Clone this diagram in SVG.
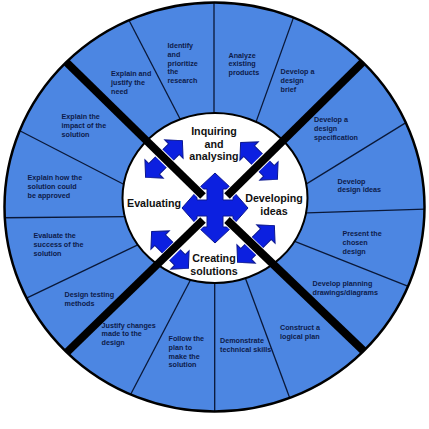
<svg xmlns="http://www.w3.org/2000/svg" width="429" height="429" viewBox="0 0 429 429">
<style>
.s{font-family:"Liberation Sans",Arial,sans-serif;font-size:7.2px;font-weight:bold;fill:#0d1b4a}
.b{font-family:"Liberation Sans",Arial,sans-serif;font-size:10.7px;font-weight:bold;fill:#111}
.thin{stroke:#0a1838;stroke-width:1.3;fill:none}
.thick{stroke:#000;stroke-width:8;fill:none}
.case{stroke:#fff;stroke-width:10;fill:none}
.arr{fill:#0c20e0;stroke:#0a1690;stroke-width:1}
</style>
<defs>
<clipPath id="outer"><ellipse cx="214.5" cy="207" rx="210" ry="204.5"/></clipPath>
<clipPath id="inner"><ellipse cx="215" cy="198" rx="91" ry="83.5"/></clipPath>
<path id="dbl" d="M-26,0 L-14,-13 L-14,-7.5 L14,-7.5 L14,-13 L26,0 L14,13 L14,7.5 L-14,7.5 L-14,13 Z"/>
</defs>
<rect width="429" height="429" fill="#fff"/>
<ellipse cx="214.5" cy="207" rx="210" ry="204.5" fill="#4c86e2"/>
<g id="connectors">
<g clip-path="url(#outer)">
<line class="thin" x1="128.2" y1="18.7" x2="181.8" y2="122.3"/>
<line class="thin" x1="214" y1="-2" x2="214" y2="120"/>
<line class="thin" x1="295" y1="13.4" x2="254.7" y2="125.6"/>
<line class="thin" x1="410.8" y1="119.6" x2="299.6" y2="188.1"/>
<line class="thin" x1="432" y1="208.8" x2="299" y2="213.2"/>
<line class="thin" x1="414.6" y1="288.9" x2="288.4" y2="238.8"/>
<line class="thin" x1="292.8" y1="406.3" x2="244.2" y2="275"/>
<line class="thin" x1="214.7" y1="420" x2="214.7" y2="277"/>
<line class="thin" x1="127.2" y1="401" x2="191.1" y2="278.7"/>
<line class="thin" x1="21.3" y1="300.6" x2="140.4" y2="243.7"/>
<line class="thin" x1="-3" y1="217.8" x2="129" y2="216.6"/>
<line class="thin" x1="16.4" y1="129" x2="127" y2="186"/>
</g>
</g>
<ellipse id="hub" cx="215" cy="198" rx="92.5" ry="85" fill="#fff" stroke="#000" stroke-width="2"/>
<ellipse cx="214.5" cy="207" rx="210" ry="204.5" fill="none" stroke="#000" stroke-width="2.5"/>
<g id="arrows">
<path class="arr" d="M215,173 L232,189 L223,189 L223,200 L233,200 L233,191 L248,208 L233,225 L233,216 L223,216 L223,227 L232,227 L215,243 L198,227 L207,227 L207,216 L197,216 L197,225 L182,208 L197,191 L197,200 L207,200 L207,189 L198,189 Z"/>
<use href="#dbl" class="arr" transform="translate(164,159) rotate(-45)"/>
<use href="#dbl" class="arr" transform="translate(259,161) rotate(45)"/>
<use href="#dbl" class="arr" transform="translate(170,250) rotate(45)"/>
<use href="#dbl" class="arr" transform="translate(256,244) rotate(-45)"/>
</g>
<g id="dividers">
<g clip-path="url(#inner)">
<line class="case" x1="201.5" y1="194.5" x2="120" y2="115"/>
<line class="case" x1="228.5" y1="194.5" x2="310" y2="114"/>
<line class="case" x1="228.5" y1="221.5" x2="310" y2="300"/>
<line class="case" x1="201.5" y1="221.5" x2="120" y2="302"/>
</g>
<g clip-path="url(#outer)">
<line class="thick" x1="203" y1="196" x2="60" y2="56"/>
<line class="thick" x1="227" y1="196" x2="369" y2="56"/>
<line class="thick" x1="227" y1="220" x2="371" y2="358"/>
<line class="thick" x1="203" y1="220" x2="60" y2="359"/>
</g>
</g>
<g id="stage-inquiring"><text class="b" text-anchor="middle" x="214" y="135">Inquiring<tspan x="214" dy="12.5">and</tspan><tspan x="214" dy="12.5">analysing</tspan></text></g>
<g id="stage-developing"><text class="b" text-anchor="middle" x="274" y="202">Developing<tspan x="274" dy="13">ideas</tspan></text></g>
<g id="stage-creating"><text class="b" text-anchor="middle" x="214" y="262">Creating<tspan x="214" dy="12.5">solutions</tspan></text></g>
<g id="stage-evaluating"><text class="b" x="127" y="207">Evaluating</text></g>
<g id="seg1"><text class="s" x="111" y="76">Explain and<tspan x="111" dy="9">justify the</tspan><tspan x="111" dy="9">need</tspan></text></g>
<g id="seg2"><text class="s" x="167.5" y="48">Identify<tspan x="167.5" dy="8.8">and</tspan><tspan x="167.5" dy="8.8">prioritize</tspan><tspan x="167.5" dy="8.8">the</tspan><tspan x="167.5" dy="8.8">research</tspan></text></g>
<g id="seg3"><text class="s" x="228.5" y="57.5">Analyze<tspan x="228.5" dy="8.8">existing</tspan><tspan x="228.5" dy="8.8">products</tspan></text></g>
<g id="seg4"><text class="s" x="280.5" y="73.5">Develop a<tspan x="280.5" dy="9">design</tspan><tspan x="280.5" dy="9">brief</tspan></text></g>
<g id="seg5"><text class="s" x="314" y="122">Develop a<tspan x="314" dy="8.8">design</tspan><tspan x="314" dy="8.8">specification</tspan></text></g>
<g id="seg6"><text class="s" x="337.5" y="183.5">Develop<tspan x="337.5" dy="8.8">design ideas</tspan></text></g>
<g id="seg7"><text class="s" x="342.5" y="236">Present the<tspan x="342.5" dy="8.8">chosen</tspan><tspan x="342.5" dy="8.8">design</tspan></text></g>
<g id="seg8"><text class="s" x="312.5" y="286">Develop planning<tspan x="312.5" dy="9">drawings/diagrams</tspan></text></g>
<g id="seg9"><text class="s" x="280" y="329.5">Construct a<tspan x="280" dy="9">logical plan</tspan></text></g>
<g id="seg10"><text class="s" x="220" y="343">Demonstrate<tspan x="220" dy="9">technical skills</tspan></text></g>
<g id="seg11"><text class="s" x="168.5" y="341">Follow the<tspan x="168.5" dy="8.8">plan to</tspan><tspan x="168.5" dy="8.8">make the</tspan><tspan x="168.5" dy="8.8">solution</tspan></text></g>
<g id="seg12"><text class="s" x="101.5" y="327.5">Justify changes<tspan x="101.5" dy="8.8">made to the</tspan><tspan x="101.5" dy="8.8">design</tspan></text></g>
<g id="seg13"><text class="s" x="64.5" y="297">Design testing<tspan x="64.5" dy="9">methods</tspan></text></g>
<g id="seg14"><text class="s" x="33.5" y="238">Evaluate the<tspan x="33.5" dy="8.8">success of the</tspan><tspan x="33.5" dy="8.8">solution</tspan></text></g>
<g id="seg15"><text class="s" x="27.5" y="180">Explain how the<tspan x="27.5" dy="8.8">solution could</tspan><tspan x="27.5" dy="8.8">be approved</tspan></text></g>
<g id="seg16"><text class="s" x="61.5" y="119">Explain the<tspan x="61.5" dy="8.8">impact of the</tspan><tspan x="61.5" dy="8.8">solution</tspan></text></g>
</svg>
